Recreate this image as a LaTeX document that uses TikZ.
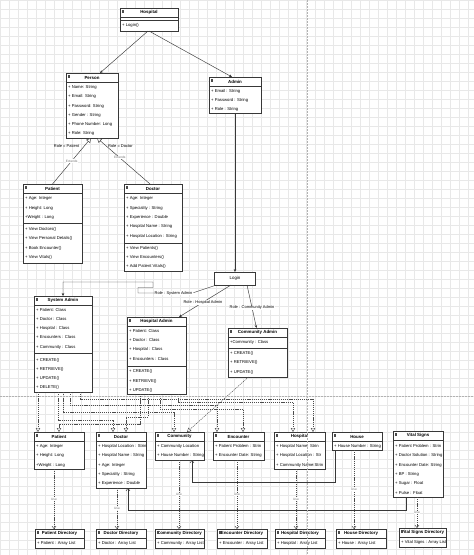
\documentclass[tikz,border=0pt]{standalone}
\usepackage{fontspec}
\setmainfont{Liberation Sans}
\usetikzlibrary{arrows.meta,calc}
\tikzset{
  ubox/.style={draw=black!78, fill=white, line width=0.5pt, inner sep=0pt, outer sep=0pt},
  usepl/.style={draw=black!78, line width=0.45pt},
  utitle/.style={font=\fontsize{4.4}{5}\selectfont\bfseries, inner sep=0pt},
  uattr/.style={font=\fontsize{4.2}{5}\selectfont, inner sep=0pt, anchor=west},
  uicon/.style={draw=black!70, line width=0.3pt},
  conn/.style={draw=black!78, line width=0.45pt},
  dep/.style={draw=black!70, line width=0.45pt, dash pattern=on 1.2pt off 0.9pt},
  assoc/.style={-{Stealth[length=3pt,width=2.6pt]}},
  gen/.style={-{Triangle[length=4.5pt,width=5pt,fill=white]}},
  real/.style={-{Triangle[length=4pt,width=4.4pt,fill=white]}},
  usetip/.style={-{Straight Barb[length=2.5pt,width=4pt]}},
  lbl/.style={font=\fontsize{4}{5}\selectfont, fill=white, inner sep=0.4pt},
  rolelbl/.style={font=\fontsize{4}{5}\selectfont, inner sep=0.4pt},
  sml/.style={font=\fontsize{3.2}{4}\selectfont, text=black!55, fill=white, inner sep=0.4pt},
  gridln/.style={draw=black!9, line width=0.25pt},
  pagebrk/.style={draw=black!30, line width=0.4pt, dash pattern=on 1.5pt off 1.5pt},
}
% name, x, y, w, h, title
\newcommand\umlbox[6]{%
  \node[ubox, minimum width=#4pt, minimum height=#5pt, anchor=north west] (#1) at (#2,#3) {};
  \draw[usepl] ($(#1.north west)+(0,9)$) -- ($(#1.north east)+(0,9)$);
  \node[utitle] (#1-title) at ($(#1.north)+(0,4.7)$) {#6};
  \draw[uicon] ($(#1.north west)+(2,2.2)$) -- ++(2.2,0)
               ($(#1.north west)+(2,3.2)$) -- ++(2.2,0)
               ($(#1.north west)+(2,4.2)$) -- ++(2.2,0);
}
\newcommand\ua[4]{\node[uattr] (#1) at (#2,#3) {#4};}
\newcommand\usep[2]{\draw[usepl] (#1.west |- 0,#2) -- (#1.east |- 0,#2);}

\begin{document}
\begin{tikzpicture}[x=1pt,y=-1pt]
\useasboundingbox (0,0) rectangle (474,555);
\fill[white] (0,0) rectangle (474,555);
\foreach \g in {0,9,...,477} {\draw[gridln] (\g,0) -- (\g,555);}
\foreach \g in {0,9,...,558} {\draw[gridln] (0,\g) -- (474,\g);}

% ---------- upper part ----------
\umlbox{hosp}{120}{8}{58}{23}{Hospital}
\usep{hosp}{20}
\ua{hosp-a1}{122}{25}{+ Login()}

\umlbox{person}{66}{73}{52}{65}{Person}
\ua{person-a1}{68}{87}{+ Name: String}
\ua{person-a2}{68}{96}{+ Email: String}
\ua{person-a3}{68}{106}{+ Password: String}
\ua{person-a4}{68}{115}{+ Gender : String}
\ua{person-a5}{68}{124}{+ Phone Number: Long}
\ua{person-a6}{68}{133}{+ Role: String}

\umlbox{admin}{209}{77}{52}{36}{Admin}
\ua{admin-a1}{211}{91}{+ Email : String}
\ua{admin-a2}{211}{100}{+ Password : String}
\ua{admin-a3}{211}{109}{+ Role : String}

\umlbox{patU}{23}{184}{59}{79}{Patient}
\ua{patU-a1}{25}{198}{+ Age: Integer}
\ua{patU-a2}{25}{208}{+ Height: Long}
\ua{patU-a3}{25}{217}{+Weight : Long}
\usep{patU}{223}
\ua{patU-m1}{25}{229}{+ View Doctors()}
\ua{patU-m2}{25}{238}{+ View Personal Details()}
\ua{patU-m3}{25}{248}{+ Book Encounter()}
\ua{patU-m4}{25}{257}{+ View Vitals()}

\umlbox{docU}{124}{184}{58}{87}{Doctor}
\ua{docU-a1}{126}{198}{+ Age: Integer}
\ua{docU-a2}{126}{208}{+ Speciality : String}
\ua{docU-a3}{126}{217}{+ Experience : Double}
\ua{docU-a4}{126}{226}{+ Hospital Name : String}
\ua{docU-a5}{126}{236}{+ Hospital Location : String}
\usep{docU}{243}
\ua{docU-m1}{126}{248}{+ View Patients()}
\ua{docU-m2}{126}{257}{+ View Encounters()}
\ua{docU-m3}{126}{266}{+ Add Patient Vitals()}

\node[ubox, minimum width=41pt, minimum height=13pt, anchor=north west,
      font=\fontsize{4.4}{5}\selectfont] (login) at (214.5,272) {Login};

\umlbox{sysad}{34}{296}{58}{96}{System Admin}
\ua{sysad-a1}{36}{310}{+ Patient: Class}
\ua{sysad-a2}{36}{319}{+ Doctor : Class}
\ua{sysad-a3}{36}{328}{+ Hospital : Class}
\ua{sysad-a4}{36}{337}{+ Encounters : Class}
\ua{sysad-a5}{36}{347}{+ Community : Class}
\usep{sysad}{353}
\ua{sysad-m1}{36}{360}{+ CREATE()}
\ua{sysad-m2}{36}{369}{+ RETRIEVE()}
\ua{sysad-m3}{36}{378}{+ UPDATE()}
\ua{sysad-m4}{36}{387}{+ DELETE()}

\umlbox{hosad}{127}{317}{59}{77}{Hospital Admin}
\ua{hosad-a1}{129}{331}{+ Patient: Class}
\ua{hosad-a2}{129}{340}{+ Doctor : Class}
\ua{hosad-a3}{129}{349}{+ Hospital : Class}
\ua{hosad-a4}{129}{359}{+ Encounters : Class}
\usep{hosad}{366}
\ua{hosad-m1}{129}{371}{+ CREATE()}
\ua{hosad-m2}{129}{381}{+ RETRIEVE()}
\ua{hosad-m3}{129}{390}{+ UPDATE()}

\umlbox{comad}{228}{328}{59}{49}{Community Admin}
\ua{comad-a1}{230}{342}{+Community : Class}
\usep{comad}{348}
\ua{comad-m1}{230}{353}{+ CREATE()}
\ua{comad-m2}{230}{362}{+ RETRIEVE()}
\ua{comad-m3}{230}{372}{+ UPDATE()}

% ---------- lower part ----------
\umlbox{patL}{34}{432}{50}{37}{Patient}
\ua{patL-a1}{36}{446}{+ Age: Integer}
\ua{patL-a2}{36}{455}{+ Height: Long}
\ua{patL-a3}{36}{465}{+Weight : Long}

\umlbox{docL}{96}{432}{50}{56}{Doctor}
\ua{docL-a1}{98}{446}{+ Hospital Location : Strin}
\ua{docL-a2}{98}{455}{+ Hospital Name : String}
\ua{docL-a3}{98}{465}{+ Age: Integer}
\ua{docL-a4}{98}{474}{+ Speciality : String}
\ua{docL-a5}{98}{483}{+ Experience : Double}

\umlbox{comm}{155}{432}{49}{28}{Community}
\ua{comm-a1}{157}{446}{+ Community Location}
\ua{comm-a2}{157}{455}{+ House Number : String}

\umlbox{enc}{213}{432}{51}{28}{Encounter}
\ua{enc-a1}{215}{446}{+ Patient Problem : Strin}
\ua{enc-a2}{215}{455}{+ Encounter Date: String}

\umlbox{hosL}{274}{432}{51}{37}{Hospital}
\ua{hosL-a1}{276}{446}{+ Hospital Name: Strin}
\ua{hosL-a2}{276}{455}{+ Hospital Location : Str}
\ua{hosL-a3}{276}{465}{+ Community Name:Strin}

\umlbox{house}{332}{432}{50}{18}{House}
\ua{house-a1}{334}{446}{+ House Number : String}

\umlbox{vit}{393}{431}{50}{66}{Vital Signs}
\ua{vit-a1}{395}{446}{+ Patient Problem : Strin}
\ua{vit-a2}{395}{455}{+ Doctor Solution : String}
\ua{vit-a3}{395}{465}{+ Encounter Date: String}
\ua{vit-a4}{395}{474}{+ BP : String}
\ua{vit-a5}{395}{483}{+ Sugar : Float}
\ua{vit-a6}{395}{493}{+ Pulse : Float}

\umlbox{patDir}{35}{529}{49}{19}{Patient Directory}
\ua{patDir-a1}{37}{543}{+ Patient : Array List}
\umlbox{docDir}{96}{529}{50}{19}{Doctor Directory}
\ua{docDir-a1}{98}{543}{+ Doctor : Array List}
\umlbox{comDir}{155}{529}{49}{19}{Community Directory}
\ua{comDir-a1}{157}{543}{+ Community : Array List}
\umlbox{encDir}{217}{529}{50}{19}{Encounter Directory}
\ua{encDir-a1}{219}{543}{+ Encounter : Array List}
\umlbox{hosDir}{275}{529}{50}{19}{Hospital Directory}
\ua{hosDir-a1}{277}{543}{+ Hospital : Array List}
\umlbox{houDir}{336}{529}{50}{19}{House Directory}
\ua{houDir-a1}{338}{543}{+ House : Array List}
\umlbox{vitDir}{399}{528}{47}{19}{Vital Signs Directory}
\ua{vitDir-a1}{401}{542}{+ Vital Signs : Array List}

% ---------- connectors: upper ----------
\draw[conn, assoc] ([xshift=-1pt]hosp.south) -- ([xshift=8pt]person.north);
\draw[conn, assoc] (hosp.south) -- ([xshift=-3pt]admin.north);
\draw[conn, assoc] (admin.south) -- (admin.south |- login.north);

\draw[conn, gen] (patU.north) -- ([xshift=-1pt]person.south)
  node[sml, pos=0.5] (ex1) {Extends};
\draw[conn, gen] ([xshift=-3pt]docU.north) -- ([xshift=5pt]person.south)
  node[sml, pos=0.57] (ex2) {Extends};
\node[rolelbl] (rp) at (66.5,146) {Role = Patient};
\node[rolelbl] (rd) at (120.5,146) {Role = Doctor};

\coordinate (slA) at ([xshift=2pt]login.south west);
\coordinate (slB) at ([xshift=29pt]sysad.north west);
\draw[conn, assoc] (slA) -- (194,292.5) -- (153,293) -- (138,293) -- (138,287.5)
  -- (153,287.5) -- (153,282) -- (slB |- 0,282) -- (slB);
\node[lbl] (lsa) at (173.5,293) {Role : System Admin};

\draw[conn, assoc] ([xshift=-4pt]login.south) -- ([xshift=-7pt]hosad.north east)
  node[lbl, pos=0.54] (lha) {Role : Hospital Admin};
\draw[conn, assoc] ([xshift=12pt]login.south) -- ([xshift=-1pt]comad.north)
  node[lbl, pos=0.53] (lca) {Role : Community Admin};

% ---------- connectors: admins to entities ----------
\coordinate (sa1) at ([xshift=4pt]sysad.south west);
\coordinate (sa2) at ([xshift=24pt]sysad.south west);
\coordinate (sa3) at ([xshift=29pt]sysad.south west);
\coordinate (sa4) at ([xshift=36pt]sysad.south west);
\coordinate (sa5) at ([xshift=46pt]sysad.south west);
\coordinate (ha1) at ([xshift=13pt]hosad.south west);
\coordinate (ha2) at ([xshift=21pt]hosad.south west);
\coordinate (ha3) at ([xshift=33pt]hosad.south west);
\coordinate (ha4) at ([xshift=51pt]hosad.south west);
\coordinate (pt1) at ([xshift=4pt]patL.north west);
\coordinate (pt2) at ([xshift=25pt]patL.north west);
\coordinate (dt1) at ([xshift=17pt]docL.north west);
\coordinate (dt2) at ([xshift=30pt]docL.north west);
\coordinate (ct1) at ([xshift=19pt]comm.north west);
\coordinate (ct2) at ([xshift=32pt]comm.north west);
\coordinate (et1) at ([xshift=4pt]enc.north west);
\coordinate (et2) at ([xshift=30pt]enc.north west);
\coordinate (ht1) at ([xshift=19pt]hosL.north west);
\coordinate (ht2) at ([xshift=39pt]hosL.north west);

\draw[dep, real] (sa1) -- (pt1);
\draw[dep, real] (sa2) -- ++(0,28) -| (dt1);
\draw[dep, real] (sa3) -- ++(0,20) -| (ct1);
\draw[dep, real] (sa4) -- ++(0,13) -| (et1);
\draw[dep, real] (sa5) -- ++(0,7) -| (ht2);
\draw[dep, real] (ha1) -- ++(0,30) -| (pt2);
\draw[dep, real] (ha2) -- ++(0,23) -| (dt2);
\draw[dep, real] (ha3) -- ++(0,15) -| (et2);
\draw[dep, real] (ha4) -- ++(0,8) -| (ht1);
\draw[dep, real] ([xshift=-9pt]comad.south) -- (ct2);

% ---------- connectors: entities to directories ----------
\coordinate (u1) at ([xshift=-5pt]patL.south);
\coordinate (u2) at ([xshift=-4pt]docL.south);
\coordinate (u3) at ([xshift=-0.5pt]comm.south);
\coordinate (u4) at ([xshift=-1.5pt]enc.south);
\coordinate (u5) at ([xshift=-3.5pt]hosL.south);
\coordinate (u6) at ([xshift=-3pt]house.south);
\coordinate (u7) at ([xshift=-1pt]vit.south);
\draw[dep, usetip] (u1) -- (u1 |- patDir.north) node[sml, midway] (use1) {Use};
\draw[dep, usetip] (u2) -- (u2 |- docDir.north) node[sml, midway] (use2) {Use};
\draw[dep, usetip] (u3) -- (u3 |- comDir.north) node[sml, midway] (use3) {Use};
\draw[dep, usetip] (u4) -- (u4 |- encDir.north) node[sml, midway] (use4) {Use};
\draw[dep, usetip] (u5) -- (u5 |- hosDir.north) node[sml, midway] (use5) {Use};
\draw[dep, usetip] (u6) -- (u6 |- houDir.north) node[sml, midway] (use6) {Use};
\draw[dep, usetip] (u7) -- (u7 |- vitDir.north) node[sml, midway] (use7) {Use};

\draw[conn, usetip] ([xshift=-12pt]vit.south) -- ++(0,13) -| ([xshift=7pt]docL.south);
\draw[conn, usetip] ([xshift=3pt]house.south west) -- ++(0,32) -| ([xshift=12.5pt]comm.south);

% ---------- page breaks ----------
\draw[pagebrk] (0,396) -- (474,396);
\draw[pagebrk] (307,0) -- (307,555);
\end{tikzpicture}
\end{document}
